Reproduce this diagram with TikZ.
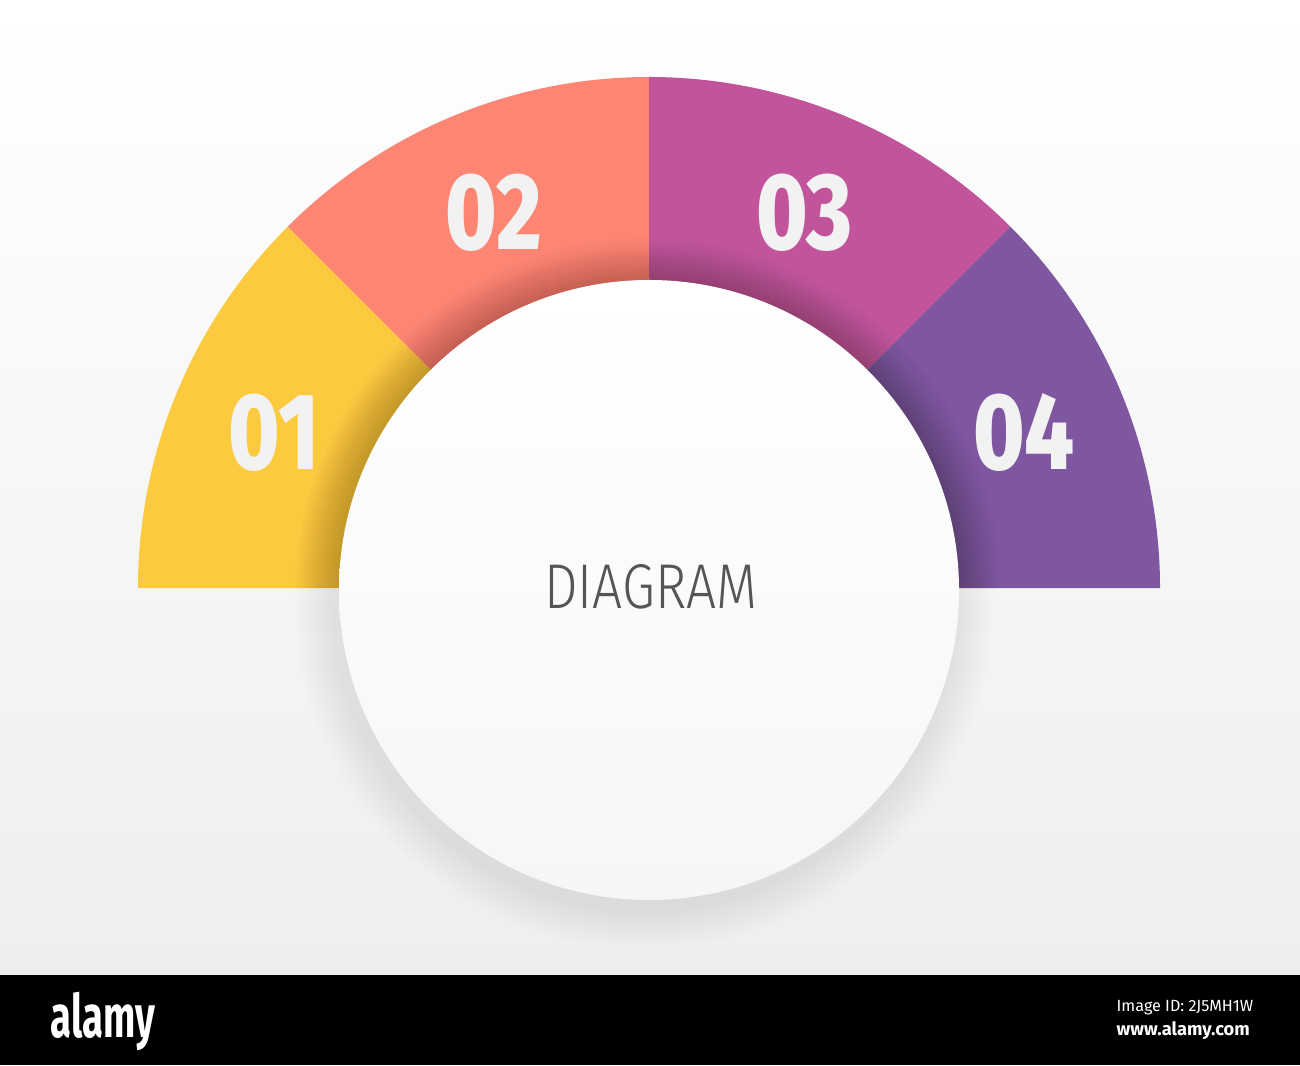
\documentclass[tikz,border=0pt]{standalone}
\usepackage{fontspec}
\setmainfont{Fira Sans}
\newfontfamily\lightfont{Fira Sans Light}
\newfontfamily\heavyfont{Fira Sans ExtraBold}
\usetikzlibrary{calc}
\definecolor{segone}{HTML}{FCCA3F}
\definecolor{segtwo}{HTML}{FC8574}
\definecolor{segthree}{HTML}{C1549B}
\definecolor{segfour}{HTML}{7F56A0}
\definecolor{numwhite}{HTML}{F2F2F2}
\definecolor{bgbottom}{HTML}{EEEEEE}
\definecolor{labelgray}{HTML}{555555}

\begin{document}
\begin{tikzpicture}[
    numtext/.style={text=numwhite, inner sep=0pt,
      font=\heavyfont\fontsize{31}{31}\selectfont},
    bartext/.style={text=white, inner sep=0pt, anchor=west}]
    % --- canvas ---
    \useasboundingbox (0,0) rectangle (13,10.65);
    \shade[top color=white, bottom color=bgbottom] (0,0.9) rectangle (13,10.65);
    \coordinate (O) at (6.49,4.77);   % centre of the half ring
    \coordinate (C) at (6.49,4.75);   % centre of the white disc
    \def\router{5.11}
    \def\rdisc{3.10}

    % --- four segments of the half ring ---
    \foreach \a/\col in {180/segone, 135/segtwo, 90/segthree, 45/segfour}
        \fill[\col] (O) -- ++(\a:\router) arc (\a:\a-45:\router) -- cycle;

    % --- soft shadow round the disc (stronger on the ring) ---
    \foreach \i in {1,...,10}
        \fill[black, opacity=0.006] ($(C)+(-0.05,-0.08)$) circle ({\rdisc+0.04*\i});
    \begin{scope}
        \clip (O) -- ++(180:\router) arc (180:0:\router) -- cycle;
        \foreach \i in {1,...,12}
            \fill[black, opacity=0.012] (C) circle ({\rdisc+0.035*\i});
    \end{scope}

    % --- white disc ---
    \shade[top color=white, bottom color=gray!7] (C) circle (\rdisc);
    \node[text=labelgray, inner sep=0pt] (title) at (6.51,4.78)
        {\lightfont\fontsize{18}{18}\selectfont\scalebox{0.84}[1]{DIAGRAM}};

    % --- numbers ---
    \foreach \n/\a in {01/157.5, 02/112.5, 03/67.5, 04/22.5}
        \node[numtext] (num\n) at ($(O)+(\a:4.06)$) {\scalebox{0.8}[1]{\n}};

    % --- bottom strip ---
    \fill[black] (0,0) rectangle (13,0.9);
    \node[bartext] (logo) at (0.5,0.44)
        {\fontsize{17}{17}\selectfont\bfseries\scalebox{0.64}[1]{alamy}};
    \node[bartext] (imgid) at (11.16,0.57)
        {\fontsize{4.6}{4.6}\selectfont Image ID: 2J5MH1W};
    \node[bartext] (site) at (11.16,0.34)
        {\fontsize{5.2}{5.2}\selectfont\bfseries www.alamy.com};
\end{tikzpicture}
\end{document}
